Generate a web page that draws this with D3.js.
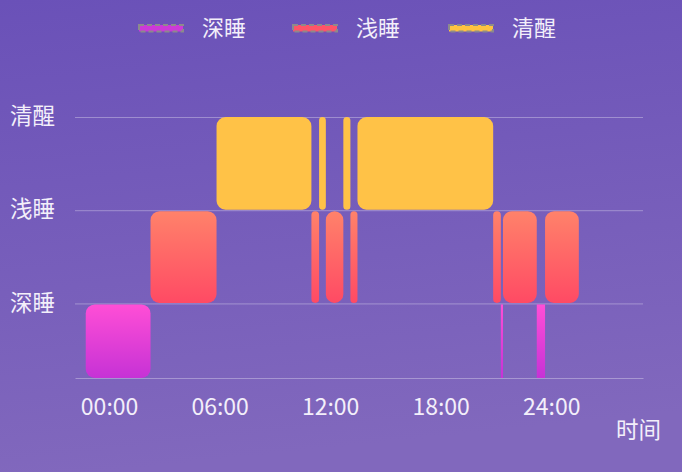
<!DOCTYPE html>
<html>
<head>
<meta charset="utf-8">
<script src="https://cdn.jsdelivr.net/npm/d3@7"></script>
<style>
  html, body { margin: 0; padding: 0; }
  body { width: 682px; height: 472px; overflow: hidden; }
  text { font-family: "Noto Sans CJK SC", "Noto Sans", sans-serif; }
</style>
</head>
<body>
<div id="chart"></div>
<script>
// 睡眠阶段
const stages = ['深睡', '浅睡', '清醒'];
const stageLevel = [1, 2, 3];

// 每段睡眠（分钟，从 00:00 起算）
const segStage = ['深睡', '浅睡', '清醒', '浅睡', '清醒', '浅睡', '清醒', '浅睡', '清醒', '浅睡', '深睡', '浅睡', '深睡', '浅睡'];
const segStart = [-76, 135, 350, 659, 684, 706, 763, 786, 809, 1251, 1276, 1283, 1393, 1420];
const segEnd   = [135, 350, 659, 684, 706, 763, 786, 809, 1251, 1276, 1283, 1393, 1420, 1530];

// x 轴刻度
const tickValues = [0, 360, 720, 1080, 1440];
const tickLabels = ['00:00', '06:00', '12:00', '18:00', '24:00'];

const W = 682, H = 472;
const margin = { left: 75, right: 39, top: 117, bottom: 94 };

const svg = d3.select('#chart').append('svg')
    .attr('width', W)
    .attr('height', H);

const defs = svg.append('defs');

// 背景渐变
const bg = defs.append('linearGradient')
    .attr('id', 'bg').attr('x1', 0).attr('y1', 0).attr('x2', 0.15).attr('y2', 1);
bg.append('stop').attr('offset', '0%').attr('stop-color', '#6a51b8');
bg.append('stop').attr('offset', '100%').attr('stop-color', '#8168bd');
svg.append('rect').attr('width', W).attr('height', H).attr('fill', 'url(#bg)');

// 各阶段颜色
const colors = {
    '深睡': ['#ff4ed6', '#c632d6'],
    '浅睡': ['#ff826a', '#ff4a64'],
    '清醒': ['#ffc247', '#ffc247']
};
const legendColor = { '深睡': '#cc3ad8', '浅睡': '#ff5468', '清醒': '#ffc340' };

stages.forEach((s, i) => {
    const g = defs.append('linearGradient')
        .attr('id', 'grad' + i).attr('x1', 0).attr('y1', 0).attr('x2', 0).attr('y2', 1);
    g.append('stop').attr('offset', '0%').attr('stop-color', colors[s][0]);
    g.append('stop').attr('offset', '100%').attr('stop-color', colors[s][1]);
});

const x = d3.scaleLinear()
    .domain([-111, 1739])
    .range([margin.left, W - margin.right]);

const y = d3.scaleLinear()
    .domain([0.2, 3])
    .range([H - margin.bottom, margin.top]);

// 网格线 + y 轴
const yAxis = svg.append('g')
    .attr('transform', `translate(${margin.left},0)`)
    .call(d3.axisLeft(y)
        .tickValues(stageLevel)
        .tickFormat((d, i) => stages[i])
        .tickSizeInner(-(W - margin.left - margin.right))
        .tickSizeOuter(0)
        .tickPadding(20));
yAxis.select('.domain').remove();
yAxis.selectAll('line').attr('stroke', 'rgba(255,255,255,0.32)').attr('stroke-width', 1);
yAxis.selectAll('text')
    .attr('fill', '#f3effa')
    .style('font-size', '22.5px')
    .attr('dy', '0.3em');

// x 轴
const xAxis = svg.append('g')
    .attr('transform', `translate(0,${H - margin.bottom})`)
    .call(d3.axisBottom(x)
        .tickValues(tickValues)
        .tickFormat((d, i) => tickLabels[i])
        .tickSize(0)
        .tickPadding(21));
xAxis.select('.domain').attr('stroke', 'rgba(255,255,255,0.32)');
xAxis.selectAll('text')
    .attr('fill', '#f3effa')
    .style('font-size', '23px');

svg.append('text')
    .attr('x', 661)
    .attr('y', 438)
    .attr('text-anchor', 'end')
    .attr('fill', '#f3effa')
    .style('font-size', '22.5px')
    .text('时间');

// 睡眠段
const segs = segStage.map((s, i) => ({ stage: s, start: segStart[i], end: segEnd[i] }));

svg.append('g')
    .selectAll('path')
    .data(segs)
    .enter().append('path')
    .attr('fill', d => 'url(#grad' + stages.indexOf(d.stage) + ')')
    .attr('d', d => {
        const lvl = stageLevel[stages.indexOf(d.stage)];
        const x0 = x(d.start), x1 = x(d.end);
        const y0 = y(lvl) + (lvl < 3 ? 1 : 0);
        const y1 = y(Math.max(lvl - 1, 0.2)) - (lvl > 1 ? 0.5 : 0);
        const w = x1 - x0;
        let r = Math.min(9, w / 2);
        if (d.stage === '深睡' && w < 20) r = 0;
        const p = d3.path();
        p.moveTo(x0 + r, y0);
        p.lineTo(x1 - r, y0);
        p.arcTo(x1, y0, x1, y0 + r, r);
        p.lineTo(x1, y1 - r);
        p.arcTo(x1, y1, x1 - r, y1, r);
        p.lineTo(x0 + r, y1);
        p.arcTo(x0, y1, x0, y1 - r, r);
        p.lineTo(x0, y0 + r);
        p.arcTo(x0, y0, x0 + r, y0, r);
        p.closePath();
        return p.toString();
    });

// 图例
const legend = svg.append('g');
const legendX = [138, 292, 448];
stages.forEach((s, i) => {
    const g = legend.append('g').attr('transform', `translate(${legendX[i]},24)`);
    g.append('rect')
        .attr('x', 1).attr('y', 1)
        .attr('width', 44).attr('height', 6.5)
        .attr('fill', legendColor[s])
        .attr('stroke', '#8c8a8c')
        .attr('stroke-width', 2)
        .attr('stroke-dasharray', '5,3');
    g.append('text')
        .attr('x', 64)
        .attr('y', 4.5)
        .attr('dy', '0.35em')
        .attr('fill', '#f3effa')
        .style('font-size', '22px')
        .text(s);
});
</script>
</body>
</html>
